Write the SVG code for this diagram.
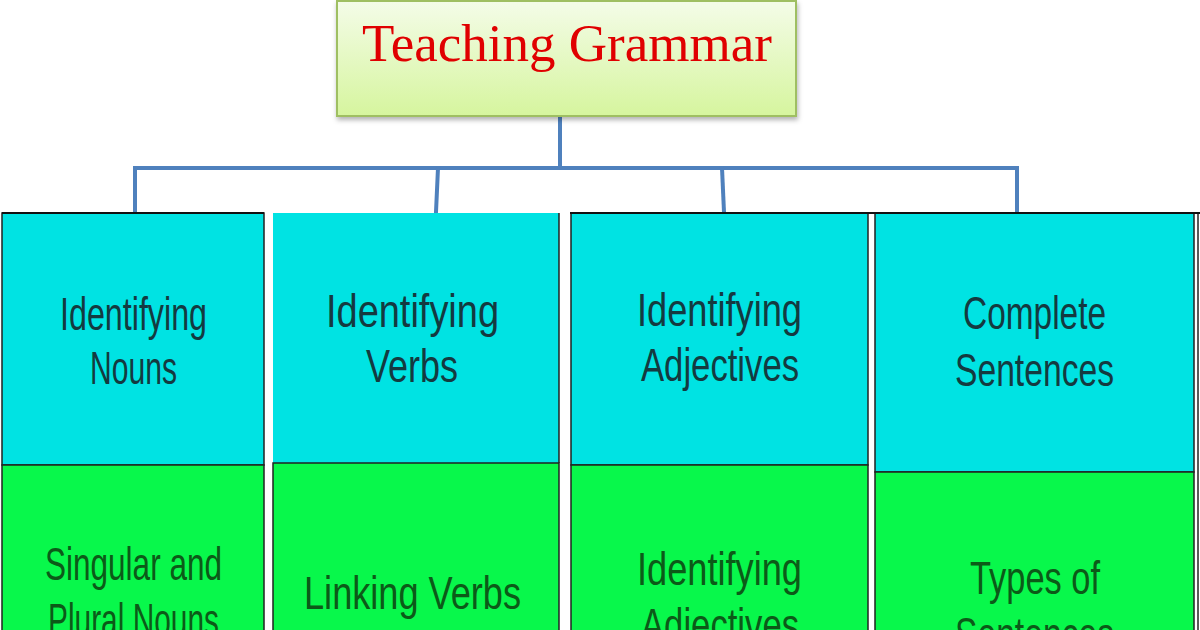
<svg xmlns="http://www.w3.org/2000/svg" width="1200" height="630" viewBox="0 0 1200 630">
<defs>
<linearGradient id="topGrad" x1="0" y1="0" x2="0" y2="1">
<stop offset="0" stop-color="#f4fce8"/>
<stop offset="1" stop-color="#d6f59e"/>
</linearGradient>
<filter id="shadow" x="-5%" y="-5%" width="110%" height="120%">
<feDropShadow dx="1" dy="3" stdDeviation="2.5" flood-color="#000" flood-opacity="0.3"/>
</filter>
</defs>
<style>
.title{font-family:"Liberation Serif","Times New Roman",serif;font-size:53px;fill:#e00000;text-anchor:middle}
.cy{fill:#00e3e3;stroke:#222;stroke-width:1.5}
.cyn{fill:#00e3e3;stroke:none}
.gr{fill:#08f84b;stroke:#222;stroke-width:1.5}
.tc{font-family:"Liberation Sans",Arial,sans-serif;font-size:46px;fill:#143a40;text-anchor:middle}
.tg{font-family:"Liberation Sans",Arial,sans-serif;font-size:46px;fill:#0c5a18;text-anchor:middle}
.conn{fill:none;stroke:#4f81bd;stroke-width:4;stroke-linecap:square}
.edge{stroke:#111;stroke-width:2}
.edge-thin{stroke:#222;stroke-width:1.5}
</style>
<rect width="1200" height="630" fill="#ffffff"/>

<g id="connectors">
<path class="conn" d="M560 118 V168"/>
<path class="conn" d="M135 212 V168 H1017 V212"/>
<path class="conn" d="M438 168 L436 212"/>
<path class="conn" d="M722 168 L724 212"/>
</g>

<g id="root">
<rect x="337" y="1" width="459" height="115" fill="url(#topGrad)" stroke="#9fbf62" stroke-width="2" filter="url(#shadow)"/>
<text class="title" x="567" y="61">Teaching Grammar</text>
</g>

<g id="nouns">
<rect class="cy" x="2" y="213" width="262" height="252"/>
<line class="edge" x1="2" y1="213" x2="264" y2="213"/>
<text class="tc" x="133.5" y="330" textLength="147" lengthAdjust="spacingAndGlyphs">Identifying</text>
<text class="tc" x="133.5" y="384" textLength="87" lengthAdjust="spacingAndGlyphs">Nouns</text>
</g>
<g id="singular-plural">
<rect class="gr" x="2" y="465" width="262" height="170"/>
<text class="tg" x="133.5" y="580" textLength="177" lengthAdjust="spacingAndGlyphs">Singular and</text>
<text class="tg" x="133.5" y="636" textLength="171" lengthAdjust="spacingAndGlyphs">Plural Nouns</text>
</g>

<g id="verbs">
<rect class="cyn" x="273" y="213" width="286" height="250"/>
<line class="edge-thin" x1="559" y1="213" x2="559" y2="463"/>
<text class="tc" x="412.5" y="327" textLength="173" lengthAdjust="spacingAndGlyphs">Identifying</text>
<text class="tc" x="412" y="382" textLength="92" lengthAdjust="spacingAndGlyphs">Verbs</text>
</g>
<g id="linking-verbs">
<rect class="gr" x="273" y="463" width="286" height="172"/>
<text class="tg" x="412.5" y="609" textLength="217" lengthAdjust="spacingAndGlyphs">Linking Verbs</text>
</g>

<g id="adjectives">
<rect class="cy" x="571" y="213" width="297" height="252"/>
<text class="tc" x="719.5" y="326" textLength="165" lengthAdjust="spacingAndGlyphs">Identifying</text>
<text class="tc" x="720" y="381" textLength="158" lengthAdjust="spacingAndGlyphs">Adjectives</text>
</g>
<g id="adjectives-2">
<rect class="gr" x="571" y="465" width="297" height="170"/>
<text class="tg" x="719.5" y="585" textLength="165" lengthAdjust="spacingAndGlyphs">Identifying</text>
<text class="tg" x="720" y="641" textLength="158" lengthAdjust="spacingAndGlyphs">Adjectives</text>
</g>

<g id="sentences">
<rect class="cy" x="875" y="213" width="319" height="259"/>
<line class="edge-thin" x1="1198" y1="213" x2="1198" y2="630"/>
<text class="tc" x="1034.5" y="329" textLength="143" lengthAdjust="spacingAndGlyphs">Complete</text>
<text class="tc" x="1034.5" y="386" textLength="159" lengthAdjust="spacingAndGlyphs">Sentences</text>
</g>
<g id="types-sentences">
<rect class="gr" x="875" y="472" width="319" height="163"/>
<text class="tg" x="1035" y="594" textLength="130" lengthAdjust="spacingAndGlyphs">Types of</text>
<text class="tg" x="1034.5" y="650" textLength="159" lengthAdjust="spacingAndGlyphs">Sentences</text>
</g>
<line class="edge" x1="570" y1="213" x2="1200" y2="213"/>
</svg>
